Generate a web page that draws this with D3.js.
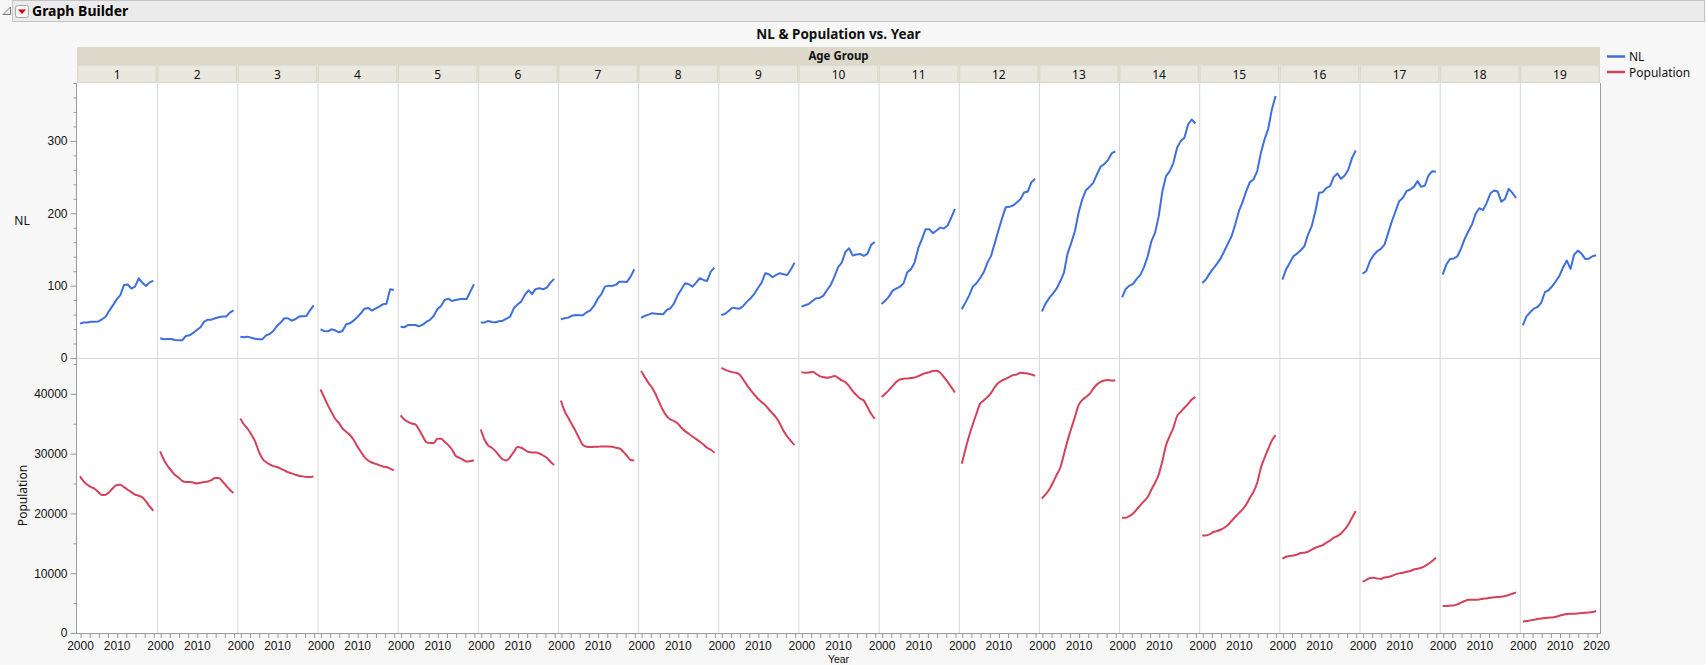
<!DOCTYPE html>
<html>
<head>
<meta charset="utf-8">
<script src="https://cdn.jsdelivr.net/npm/d3@7"></script>
<style>
  html, body { margin: 0; padding: 0; background: #f7f7f7; overflow: hidden; }
  svg { display: block; font-family: "Segoe UI", "Noto Sans", "Open Sans", sans-serif; }
</style>
</head>
<body>
<svg id="chart" width="1706" height="665"></svg>
<script>
// ---------------- data ----------------
const years = d3.range(2000, 2021);
const ageGroups = ["1","2","3","4","5","6","7","8","9","10","11","12","13","14","15","16","17","18","19"];
const seriesNames = ["NL", "Population"];
const nlTicks = [0, 100, 200, 300];
const popTicks = [0, 10000, 20000, 30000, 40000];
const yearTicks = [2000, 2010, 2020];

const nlByGroup = [
  [47.5,49,49,50,50,50.5,53.5,57,65.5,73,81,87,101,101.5,96,98.5,110,104,99.5,104.5,107],
  [27.2,25.8,26.3,26.3,24.9,24.4,24.4,30.4,31.3,34.6,38.7,42.4,50.3,53,53,54.9,56.2,57.2,57.2,62.7,65.9],
  [29.5,28.6,29.5,28.1,26.7,25.8,25.8,31.3,33.2,37.3,44.3,48.9,54.9,54.9,51.6,53.5,57.2,57.6,58.1,65.9,72.8],
  [39.6,37.3,36.9,39.6,38.3,35.5,37.3,46.6,47.9,51.6,56.2,61.8,68.2,69.2,65.5,68.2,71,74.2,75.1,95,94],
  [43.3,42.4,45.6,45.6,45.6,43.8,46.1,49.8,52.6,58.1,67.3,71.9,80.2,82,78.8,80.2,81.1,81.6,81.6,91.7,101.9],
  [48.9,48.9,51.2,49.8,49.3,50.7,51.6,54.4,57.2,68.7,73.8,77.9,87.1,93.6,88.5,95.4,96.3,95,97.3,104.1,109.3],
  [53.5,54.9,55.8,58.5,59.5,59,59,63.2,65.9,71.9,81.6,88.1,98.6,100,99.6,101.4,105.5,105.5,105.1,112.4,122.7],
  [55.3,58.1,59.9,61.8,61.3,60.9,60.4,66.4,68.7,75.6,87.1,95,103.3,101.9,98.6,104.1,110.2,107.9,106.5,119.4,124.9],
  [59.5,60.9,65,69.6,68.7,68.2,71.9,77.9,82.6,88.5,96.8,104.1,117.2,115.8,111.6,114.8,117.2,115.8,114.8,122.7,131.8],
  [71,72.8,74.7,78.8,82.6,83,86.2,94,101,112.4,125.4,131.8,146.6,151.7,141.5,142.9,143.8,141.1,143.8,156.3,160.4],
  [74.7,79.3,84.8,93.1,95.9,98.6,103.3,118.5,122.7,131.8,151.7,164.2,178,178,172.5,176.1,180.2,178.8,183,194.1,206.1],
  [67.3,76.5,86.2,98.6,103.3,110.2,118.5,131.8,141.1,158.6,176.1,193.2,208.4,208.9,210.7,214.8,219.5,228.6,230,243,247.6],
  [64.5,75.1,83,89,95.9,106,117.6,144.3,159.1,175.2,200.6,219,231.9,236.5,242,253.6,264.2,267.9,273.4,282.6,285.4],
  [83.9,95.4,100,102.4,109.3,114.8,125.9,140.6,161.4,172.9,196,230.5,251.3,258.2,269.7,290.5,299.7,304.3,322.7,329.6,324.1],
  [103.7,108.4,116.6,123.6,130,137.4,147.5,158.1,168.3,184.4,202.8,215.3,230.5,243,246.7,258.2,283.5,302,316.7,343.5,361.9],
  [108.4,122.2,131.4,140.6,144.3,148.9,154.4,170.6,182.1,202.8,228.2,229.1,235.1,237.4,249.9,255,247.6,252.2,260.5,276.6,286.8],
  [116.6,119.9,133.7,142,147.5,150.8,156.8,172.9,189,202.8,216.7,221.3,230.5,232.8,236.5,244.4,236.5,238.4,252.2,258.2,257.3],
  [115.2,129.1,136.9,137.4,140.6,151.2,164.6,175.2,184.4,199.6,207,204.3,214.4,227.3,231.4,230,215.8,219.9,233.7,228.2,221.3],
  [45.2,57.6,63.2,68.2,70.5,76.1,90.9,93.6,99.2,106.1,113.8,125.4,134.6,123.1,142.9,148.4,144.3,136.9,137.3,140.6,142]
];

const popByGroup = [
  [26190,25350,24800,24410,24130,23570,23070,23130,23570,24250,24750,24800,24410,23960,23570,23130,22960,22680,22010,21170,20450],
  [30370,28980,27970,27190,26470,26020,25460,25250,25250,25180,25010,25130,25250,25350,25580,25920,25920,25350,24630,23960,23410],
  [35880,34880,34160,33210,32100,30430,29190,28590,28190,27920,27760,27500,27200,26900,26700,26500,26300,26200,26100,26100,26200],
  [40730,39460,38120,36950,35830,35160,34210,33660,33110,32370,31270,30310,29430,28860,28520,28310,28090,27860,27760,27500,27200],
  [36390,35720,35330,35050,34880,34040,32940,31940,31770,31770,32490,32490,31990,31430,30700,29640,29310,28980,28690,28760,28860],
  [34040,32370,31370,30980,30430,29690,29030,28860,29430,30310,31100,30980,30650,30260,30200,30200,30030,29690,29310,28640,28090],
  [38900,37120,36000,34880,33770,32540,31430,31150,31100,31150,31150,31200,31200,31200,31150,30980,30870,30310,29640,28930,28860],
  [43810,42800,41850,41010,39890,38510,37220,36280,35720,35450,35050,34330,33770,33320,32870,32440,31990,31530,30980,30650,30150],
  [44360,44070,43810,43640,43520,43240,42400,41470,40630,39890,39180,38620,38120,37390,36720,36000,34990,33770,32870,32100,31430],
  [43640,43520,43580,43690,43350,42970,42800,42690,42800,42970,42690,42240,41970,41300,40460,39790,39230,38890,37790,36670,35830],
  [39460,40010,40630,41300,41970,42400,42520,42570,42640,42740,42970,43240,43470,43640,43810,43860,43520,42800,42020,41130,40230],
  [28310,30700,32940,34880,36670,38340,38890,39460,40180,41130,41850,42240,42520,42850,43140,43240,43520,43460,43410,43240,43020],
  [22510,23180,24010,25130,26420,27640,29860,32200,34210,36120,38120,38960,39460,40010,40850,41570,42020,42240,42300,42240,42240],
  [19280,19280,19560,20000,20670,21400,22070,22740,24010,25130,26520,28760,31430,32940,34330,36280,37000,37670,38340,39060,39510],
  [16320,16320,16490,16890,17050,17270,17610,18060,18730,19400,20060,20670,21500,22620,23630,25130,27640,29310,30810,32200,33110],
  [12420,12760,12870,12980,13140,13380,13430,13590,13930,14260,14480,14710,15100,15480,15930,16220,16650,17320,18160,19280,20400],
  [8580,8860,9200,9250,9130,9030,9300,9360,9530,9800,9970,10080,10250,10370,10630,10750,10920,11200,11590,12040,12590],
  [4510,4510,4570,4620,4790,5070,5350,5570,5570,5570,5620,5740,5790,5900,5960,6020,6070,6190,6350,6570,6790],
  [1890,2010,2110,2220,2340,2440,2510,2560,2610,2730,2890,3060,3180,3230,3230,3280,3340,3390,3440,3510,3680]
];

// ---------------- layout ----------------
const colors = { NL: "#3f6fdc", Population: "#d5405a" };
const plotLeft = 77, plotRight = 1600;
const nlTop = 83, midY = 358, popBottom = 633;
const gridColor = "#d6d6d6", axisColor = "#9a9a9a";

const svg = d3.select("#chart");

svg.append("rect").attr("width", 1706).attr("height", 665).attr("fill", "#f7f7f7");

// header bar
svg.append("rect").attr("x", 12.5).attr("y", 0.5).attr("width", 1692).attr("height", 21)
  .attr("fill", "#ebebeb").attr("stroke", "#c4c4c4");
svg.append("path").attr("d", "M3,14.5 L10.5,14.5 L10.5,7 Z").attr("fill", "none").attr("stroke", "#777").attr("stroke-width", 1);
svg.append("rect").attr("x", 15.5).attr("y", 5.5).attr("width", 13).attr("height", 12).attr("rx", 2)
  .attr("fill", "#f4f4f4").attr("stroke", "#a8a8a8");
svg.append("path").attr("d", "M18,9.5 L26,9.5 L22,14 Z").attr("fill", "#d00000");
svg.append("text").attr("x", 32).attr("y", 16).attr("font-size", 14).attr("font-weight", "bold")
  .attr("fill", "#000").text("Graph Builder");

// title
svg.append("text").attr("x", (plotLeft + plotRight) / 2).attr("y", 39).attr("text-anchor", "middle")
  .attr("font-size", 13.5).attr("font-weight", "bold").attr("fill", "#111").text("NL & Population vs. Year");

// panel band scale
const panel = d3.scaleBand().domain(ageGroups).range([plotLeft, plotRight]).paddingInner(0).paddingOuter(0);
const pw = panel.bandwidth();

// Age Group band
svg.append("rect").attr("x", plotLeft).attr("y", 47).attr("width", plotRight - plotLeft).attr("height", 18)
  .attr("fill", "#dcd9ca");
svg.append("text").attr("x", (plotLeft + plotRight) / 2).attr("y", 60).attr("text-anchor", "middle")
  .attr("font-size", 11.5).attr("font-weight", "bold").attr("fill", "#111").text("Age Group");

// panel strips
const strips = svg.append("g");
ageGroups.forEach(g => {
  const x0 = panel(g);
  strips.append("rect").attr("x", x0 + 0.75).attr("y", 65).attr("width", pw - 1.5).attr("height", 17.5)
    .attr("fill", "#e9e8df").attr("stroke", "#dcd9ca").attr("stroke-width", 1.5);
  strips.append("text").attr("x", x0 + pw / 2).attr("y", 78.5).attr("text-anchor", "middle")
    .attr("font-size", 12).attr("fill", "#111").text(g);
});

// plot background
svg.append("rect").attr("x", plotLeft).attr("y", nlTop).attr("width", plotRight - plotLeft)
  .attr("height", popBottom - nlTop).attr("fill", "#ffffff");

// scales
const yNL = d3.scaleLinear().domain([0, 380]).range([midY, nlTop]);
const yPop = d3.scaleLinear().domain([0, 46000]).range([popBottom, midY]);

// gridlines: panel separators and row separator
const grid = svg.append("g");
ageGroups.slice(1).forEach(g => {
  grid.append("line").attr("x1", panel(g) + 0.5).attr("x2", panel(g) + 0.5)
    .attr("y1", nlTop).attr("y2", popBottom).attr("stroke", gridColor).attr("stroke-width", 1);
});
grid.append("line").attr("x1", plotLeft).attr("x2", plotRight).attr("y1", yNL(0) + 0.5).attr("y2", yNL(0) + 0.5)
  .attr("stroke", gridColor);

// lines
const lineNL = (x) => d3.line().x((d, i) => x(years[i])).y(d => yNL(d));
const linePop = (x) => d3.line().x((d, i) => x(years[i])).y(d => yPop(d)).curve(d3.curveMonotoneX);

ageGroups.forEach((g, gi) => {
  const x0 = panel(g);
  const x = d3.scaleLinear().domain([1999.18, 2021.04]).range([x0, x0 + pw]);
  svg.append("path").datum(nlByGroup[gi]).attr("d", lineNL(x))
    .attr("fill", "none").attr("stroke", colors.NL).attr("stroke-width", 2).attr("stroke-linejoin", "round");
  svg.append("path").datum(popByGroup[gi]).attr("d", linePop(x))
    .attr("fill", "none").attr("stroke", colors.Population).attr("stroke-width", 2).attr("stroke-linejoin", "round");

  // bottom axis per panel
  const last = gi === ageGroups.length - 1;
  const ax = d3.axisBottom(x)
    .tickValues(d3.range(0, 9).map(k => 2000 + k * 2.5))
    .tickSize(5).tickPadding(3)
    .tickFormat(v => (yearTicks.slice(0, 2).includes(v) || (last && v === yearTicks[2])) ? String(v) : "");
  const ga = svg.append("g").attr("transform", `translate(0,${popBottom})`).call(ax);
  ga.select(".domain").remove();
  ga.selectAll(".tick line").attr("stroke", axisColor).attr("transform", "translate(0.5,0)");
  ga.selectAll(".tick text").attr("font-size", 12).attr("fill", "#111").attr("font-family", null);
});

// plot frame lines
svg.append("line").attr("x1", plotLeft - 0.5).attr("x2", plotLeft - 0.5).attr("y1", nlTop).attr("y2", popBottom + 0.5)
  .attr("stroke", axisColor);
svg.append("line").attr("x1", plotRight + 0.5).attr("x2", plotRight + 0.5).attr("y1", nlTop).attr("y2", popBottom + 0.5)
  .attr("stroke", axisColor);
svg.append("line").attr("x1", plotLeft - 0.5).attr("x2", plotRight + 0.5).attr("y1", popBottom + 0.5).attr("y2", popBottom + 0.5)
  .attr("stroke", axisColor);

// left axes
function leftAxis(scale, major, minor) {
  const gMinor = svg.append("g").attr("transform", `translate(${plotLeft - 0.5},0)`)
    .call(d3.axisLeft(scale).tickValues(minor).tickSize(3).tickFormat(""));
  gMinor.select(".domain").remove();
  gMinor.selectAll(".tick line").attr("stroke", axisColor);
  const gMajor = svg.append("g").attr("transform", `translate(${plotLeft - 0.5},0)`)
    .call(d3.axisLeft(scale).tickValues(major).tickSize(6).tickPadding(3).tickFormat(d3.format("d")));
  gMajor.select(".domain").remove();
  gMajor.selectAll(".tick line").attr("stroke", axisColor);
  gMajor.selectAll(".tick text").attr("font-size", 12).attr("fill", "#111").attr("font-family", null);
}
leftAxis(yNL, nlTicks, d3.range(20, 381, 20).filter(v => v % 100 !== 0));
leftAxis(yPop, popTicks, d3.range(5000, 46000, 10000));

// axis titles
svg.append("text").attr("x", 22).attr("y", (nlTop + midY) / 2 + 4).attr("text-anchor", "middle")
  .attr("font-size", 12).attr("fill", "#111").text("NL");
svg.append("text").attr("transform", `translate(27,${(midY + popBottom) / 2}) rotate(-90)`).attr("text-anchor", "middle")
  .attr("font-size", 12).attr("fill", "#111").text("Population");
svg.append("text").attr("x", (plotLeft + plotRight) / 2).attr("y", 662.6).attr("text-anchor", "middle")
  .attr("font-family", "'Liberation Sans', Arial, sans-serif")
  .attr("font-size", 10.5).attr("fill", "#111").text("Year");

// legend
const legend = svg.append("g");
seriesNames.forEach((s, i) => {
  const y = 56.5 + i * 15.5;
  legend.append("line").attr("x1", 1607).attr("x2", 1625).attr("y1", y).attr("y2", y)
    .attr("stroke", colors[s]).attr("stroke-width", 2.5);
  legend.append("text").attr("x", 1629).attr("y", y + 4.5).attr("font-size", 12).attr("fill", "#111").text(s);
});
</script>
</body>
</html>
